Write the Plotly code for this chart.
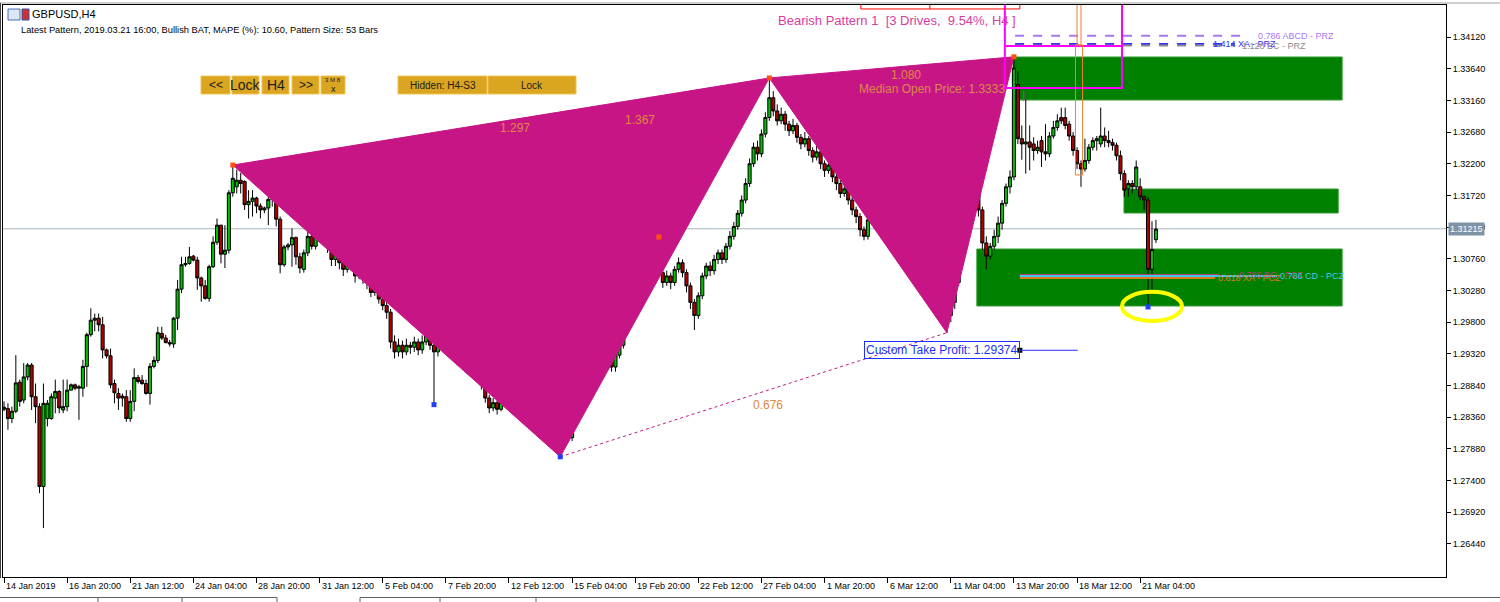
import plotly.graph_objects as go

# ---------------- data (prices in pips, i.e. price * 10000), one bar per H4 candle ----------------
opens = [12848,12849,12834,12845,12889,12862,12897,12915,12867,12852,12731,12834,12834,12865,12875,12847,12852,12877,12885,12880,
         12880,12913,12961,12983,12986,12976,12938,12929,12887,12872,12868,12867,12834,12860,12896,12892,12887,12872,12913,12922,
         12963,12956,12949,12947,12986,13030,13067,13069,13080,13074,13047,13035,13016,13064,13101,13127,13083,13089,13176,13185,
         13195,13193,13158,13163,13168,13156,13150,13153,13166,13190,13136,13067,13094,13097,13108,13079,
         13060,13085,13110,13095,13125,13135,13115,13095,13075,13085,
         13070,13060,13075,13065,13050,13060,13045,13040,13025,13035,
         13015,13005,12995,12950,12935,12945,12935,12945,12942,12950,
         12938,12950,12960,12945,12935,12950,12962,12955,12965,12950,
         12940,12952,12935,12925,12910,12895,12885,12865,12850,12858,
         12848,12862,12875,12888,12895,12885,12900,12910,12895,12875,
         12860,12870,12845,12830,12805,12790,12800,12815,12805,12825,
         12840,12870,12885,12910,12925,12915,12930,12938,12925,12912,
         12930,12945,12965,12990,13020,13045,13060,13050,13070,13060,
         13075,13055,13040,13050,13040,13060,13070,13055,13035,13010,
         12990,13020,13050,13065,13058,13075,13085,13075,13095,13110,
         13125,13145,13165,13190,13220,13245,13235,13265,13290,13320,
         13300,13285,13295,13280,13270,13278,13260,13250,13258,13240,
         13230,13238,13220,13210,13218,13200,13190,13175,13182,13165,
         13150,13140,13120,13110,13135,13150,13140,13155,13165,13155,
         13170,13178,13170,13150,13130,13140,13110,13090,13098,13075,
         13060,13030,13000,12985,12990,13010,13040,13090,13140,13175,
         13190,13180,13150,13100,13080,13095,13110,13130,13160,13185,
         13200,13340,13258,13250,13253,13250,13240,13255,13238,13235,
         13262,13275,13290,13290,13280,13262,13240,13220,13212,13225,
         13245,13255,13250,13262,13255,13252,13248,13232,13205,13182,
         13190,13185,13185,13170,13165,13060,13105]
highs = [12860,12857,12852,12930,12893,12918,12918,12918,12887,12857,12887,12862,12872,12893,12877,12893,12893,12887,12887,12885,
         12923,12964,13001,12993,12993,12988,12940,12940,12893,12880,12872,12877,12877,12910,12900,12900,12893,12918,12928,12973,
         12973,12961,12953,12988,13044,13079,13079,13094,13082,13079,13049,13044,13067,13110,13137,13127,13127,13180,13218,13211,
         13206,13195,13180,13180,13170,13160,13155,13170,13198,13201,13140,13097,13100,13122,13110,13085,
         13090,13120,13125,13135,13150,13140,13120,13100,13095,13090,
         13078,13085,13082,13070,13068,13065,13055,13048,13042,13040,
         13022,13012,13000,12960,12955,12952,12955,12950,12958,12955,
         12960,12968,12965,12950,12958,12970,12975,12978,12970,12955,
         12960,12958,12942,12930,12915,12900,12890,12870,12865,12862,
         12868,12880,12892,12905,12900,12908,12918,12915,12900,12880,
         12880,12875,12850,12835,12812,12808,12822,12820,12830,12848,
         12875,12892,12915,12935,12932,12940,12945,12942,12930,12935,
         12950,12970,12995,13025,13050,13068,13065,13078,13080,13075,
         13109,13060,13058,13055,13065,13078,13075,13060,13040,13015,
         13025,13055,13070,13072,13082,13090,13090,13100,13118,13132,
         13150,13172,13198,13228,13252,13255,13272,13298,13350,13330,
         13310,13305,13300,13285,13288,13282,13265,13268,13262,13245,
         13248,13242,13225,13228,13222,13205,13195,13190,13186,13170,
         13155,13145,13125,13140,13155,13158,13162,13170,13172,13178,
         13185,13185,13175,13155,13148,13145,13115,13105,13102,13080,
         13065,13035,13005,13000,13015,13045,13095,13145,13185,13200,
         13280,13190,13155,13110,13100,13120,13140,13165,13190,13210,
         13382,13360,13278,13317,13278,13260,13255,13262,13280,13268,
         13285,13295,13305,13305,13285,13268,13245,13225,13258,13250,
         13260,13262,13305,13275,13270,13258,13252,13240,13210,13195,
         13195,13225,13198,13172,13170,13133,13135]
lows = [12845,12817,12827,12842,12852,12857,12892,12847,12827,12721,12668,12822,12832,12842,12842,12842,12845,12877,12877,12832,
        12867,12882,12958,12966,12966,12925,12925,12880,12857,12847,12852,12829,12829,12845,12887,12885,12870,12855,12910,12918,
        12953,12948,12943,12941,12968,13024,13064,13067,13072,13029,13011,13014,13011,13062,13097,13069,13062,13084,13170,13175,
        13175,13150,13137,13140,13145,13137,13145,13127,13155,13125,13054,13064,13089,13064,13067,13054,
        13055,13080,13090,13090,13115,13105,13085,13065,13065,13060,
        13050,13055,13058,13040,13045,13038,13030,13018,13020,13008,
        12998,12985,12940,12925,12928,12925,12930,12932,12935,12930,
        12932,12945,12938,12855,12928,12945,12948,12950,12945,12932,
        12935,12928,12918,12902,12888,12878,12858,12842,12845,12840,
        12845,12858,12870,12882,12878,12880,12895,12888,12868,12852,
        12855,12838,12820,12795,12782,12776,12795,12798,12800,12820,
        12835,12865,12880,12905,12908,12910,12925,12918,12905,12905,
        12925,12940,12960,12985,13015,13038,13040,13045,13052,13055,
        13050,13032,13035,13030,13035,13055,13048,13025,13000,12968,
        12985,13015,13045,13050,13052,13068,13068,13070,13090,13105,
        13120,13140,13160,13185,13215,13225,13230,13260,13285,13292,
        13278,13280,13270,13262,13265,13252,13242,13245,13232,13222,
        13225,13212,13200,13205,13192,13180,13168,13170,13158,13142,
        13130,13110,13104,13105,13128,13132,13135,13150,13148,13150,
        13165,13160,13140,13120,13125,13100,13080,13085,13065,13050,
        13020,12990,12975,12964,12980,13000,13035,13085,13135,13170,
        13170,13140,13090,13060,13075,13090,13100,13120,13155,13175,
        13195,13250,13226,13205,13210,13225,13235,13215,13225,13230,
        13258,13270,13280,13272,13255,13232,13212,13185,13208,13220,
        13240,13240,13245,13245,13245,13240,13225,13195,13170,13170,
        13175,13180,13165,13150,13003,13025,13100]
closes = [12851,12834,12845,12888,12860,12897,12915,12867,12852,12731,12857,12857,12867,12875,12850,12852,12877,12885,12880,12882,
          12913,12961,12983,12986,12976,12938,12929,12885,12873,12865,12865,12834,12860,12896,12890,12887,12872,12913,12922,12964,
          12956,12949,12947,12986,13030,13067,13069,13079,13074,13047,13035,13016,13064,13101,13127,13083,13089,13176,13198,13195,
          13190,13158,13163,13168,13156,13150,13153,13166,13190,13136,13067,13094,13097,13108,13079,13062,
          13085,13110,13095,13125,13135,13115,13095,13075,13085,13070,
          13060,13075,13065,13050,13060,13045,13040,13025,13035,13015,
          13005,12995,12950,12935,12945,12935,12945,12942,12950,12938,
          12950,12960,12945,12935,12950,12962,12955,12965,12950,12940,
          12952,12935,12925,12910,12895,12885,12865,12850,12858,12848,
          12862,12875,12888,12895,12885,12900,12910,12895,12875,12860,
          12870,12845,12830,12805,12790,12800,12815,12805,12825,12840,
          12870,12885,12910,12925,12915,12930,12938,12925,12912,12930,
          12945,12965,12990,13020,13045,13060,13050,13070,13060,13075,
          13055,13040,13050,13040,13060,13070,13055,13035,13010,12990,
          13020,13050,13065,13058,13075,13085,13075,13095,13110,13125,
          13145,13165,13190,13220,13245,13235,13265,13290,13320,13300,
          13285,13295,13280,13270,13278,13260,13250,13258,13240,13230,
          13238,13220,13210,13218,13200,13190,13175,13182,13165,13150,
          13140,13120,13110,13135,13150,13140,13155,13165,13155,13170,
          13178,13170,13150,13130,13140,13110,13090,13098,13075,13060,
          13030,13000,12985,12990,13010,13040,13090,13140,13175,13190,
          13180,13150,13100,13080,13095,13110,13130,13160,13185,13200,
          13365,13258,13250,13253,13245,13240,13245,13238,13235,13262,
          13275,13285,13285,13278,13262,13240,13220,13212,13225,13245,
          13255,13258,13262,13255,13252,13248,13232,13205,13180,13190,
          13185,13215,13170,13165,13060,13090,13121]

tick_bars = [0, 16, 32, 48, 64, 80, 96, 112, 128, 144, 160, 176, 192, 208, 224, 240, 256, 272, 288]
tick_labels = ["14 Jan 2019", "16 Jan 20:00", "21 Jan 12:00", "24 Jan 04:00", "28 Jan 20:00", "31 Jan 12:00",
               "5 Feb 04:00", "7 Feb 20:00", "12 Feb 12:00", "15 Feb 04:00", "19 Feb 20:00", "22 Feb 12:00",
               "27 Feb 04:00", "1 Mar 20:00", "6 Mar 12:00", "11 Mar 04:00", "13 Mar 20:00", "18 Mar 12:00",
               "21 Mar 04:00"]
price_ticks = [1.26440, 1.26920, 1.27400, 1.27880, 1.28360, 1.28840, 1.29320, 1.29800, 1.30280,
               1.30760, 1.31240, 1.31720, 1.32200, 1.32680, 1.33160, 1.33640, 1.34120]
current_price = 1.31215

# harmonic pattern points: bar index and whether the point is a high or a low
pattern_bars = [58, 141, 194, 239, 256]
pattern_kind = ["H", "L", "H", "L", "H"]
extra_orange_bars = [166]
extra_blue_bars = [109, 290]

# zones (bar index range, price range)
zone_start = [255.8, 283.9, 246.6]
zone_end = [339.2, 338.2, 339.2]
zone_low = [1.33166, 1.31454, 1.30045]
zone_high = [1.33817, 1.31817, 1.30908]

prz_levels = [1.34140, 1.34014, 1.33991]
prz_labels = ["0.786 ABCD - PRZ", "1.414 XA - PRZ", "1.128 BC - PRZ"]
prz_colors = ["#A878F0", "#3030FF", "#8C8C8C"]
pcz_levels = [1.30514, 1.30499, 1.30469]
pcz_labels = ["0.786 BC - PCZ", "0.786 CD - PCZ", "0.618 XA - PCZ"]
pcz_colors = ["#B04070", "#40C8E8", "#E07820"]
take_profit = 1.29374

# ---------------- geometry helpers ----------------
W, H = 1500, 602
L, R, T, B = 3, 54, 5, 25
PW, PH = W - L - R, H - T - B
BAR_PX = 3.945
X0 = -1 / BAR_PX
X1 = X0 + PW / BAR_PX
Y0, Y1 = 1.25939, 1.34605


def px(x):
    return (x - L) / PW


def py(y):
    return (H - B - y) / PH


o = [v / 10000 for v in opens]
h = [v / 10000 for v in highs]
l = [v / 10000 for v in lows]
c = [v / 10000 for v in closes]
xs = list(range(len(o)))
pattern_prices = [h[b] if k == "H" else l[b] for b, k in zip(pattern_bars, pattern_kind)]

fig = go.Figure()
PINK = "#C71585"
FONT = "Liberation Sans"

# pattern triangles
for idx in [(0, 1, 2, 0), (2, 3, 4, 2)]:
    fig.add_trace(go.Scatter(x=[pattern_bars[i] for i in idx], y=[pattern_prices[i] for i in idx],
                             fill="toself", fillcolor=PINK, line=dict(color=PINK, width=1),
                             mode="lines", hoverinfo="skip", showlegend=False))
fig.add_trace(go.Scatter(x=[pattern_bars[1], pattern_bars[3]], y=[pattern_prices[1], pattern_prices[3]],
                         mode="lines", line=dict(color=PINK, width=1, dash="dot"),
                         hoverinfo="skip", showlegend=False))

fig.add_trace(go.Candlestick(x=xs, open=o, high=h, low=l, close=c,
                             increasing=dict(fillcolor="#00C000", line=dict(color="#000000", width=1)),
                             decreasing=dict(fillcolor="#B00000", line=dict(color="#000000", width=1)),
                             whiskerwidth=0, showlegend=False, hoverinfo="x+y"))

fig.add_trace(go.Scatter(x=[pattern_bars[0], pattern_bars[2], pattern_bars[4]] + extra_orange_bars,
                         y=[pattern_prices[0], pattern_prices[2], pattern_prices[4]] + [h[b] for b in extra_orange_bars],
                         mode="markers", marker=dict(symbol="square", size=5, color="#FF5010"),
                         hoverinfo="skip", showlegend=False))
fig.add_trace(go.Scatter(x=[pattern_bars[1]] + extra_blue_bars,
                         y=[pattern_prices[1]] + [l[b] for b in extra_blue_bars],
                         mode="markers", marker=dict(symbol="square", size=5, color="#2040FF"),
                         hoverinfo="skip", showlegend=False))

shapes = []
for s, e, lo, hi in zip(zone_start, zone_end, zone_low, zone_high):
    shapes.append(dict(type="rect", xref="x", yref="y", x0=s, x1=e, y0=lo, y1=hi,
                       fillcolor="#008000", line=dict(color="#2E9B2E", width=1), layer="below"))
shapes.append(dict(type="line", xref="paper", yref="y", x0=0, x1=1, y0=current_price, y1=current_price,
                   line=dict(color="#A8B4BE", width=1), layer="below"))
for lev, col, end in zip(prz_levels, prz_colors, [314.6, 312, 312]):
    shapes.append(dict(type="line", xref="x", yref="y", x0=256.3, x1=end, y0=lev, y1=lev,
                       line=dict(color=col, width=2, dash="dash")))
for lev, col, end in zip(pcz_levels, pcz_colors, [308, 322.7, 307]):
    shapes.append(dict(type="line", xref="x", yref="y", x0=257.5, x1=end, y0=lev, y1=lev,
                       line=dict(color=col, width=2)))
shapes.append(dict(type="rect", xref="x", yref="y", x0=253.7, x1=283.4, y0=1.33347, y1=1.3475,
                   line=dict(color="#FF00FF", width=2)))
shapes.append(dict(type="line", xref="x", yref="y", x0=253.7, x1=283.4, y0=1.33984, y1=1.33984,
                   line=dict(color="#FF00FF", width=2)))
shapes.append(dict(type="line", xref="x", yref="y", x0=258.5, x1=258.5, y0=1.33300, y1=1.33150,
                   line=dict(color="#FF00FF", width=1)))
shapes.append(dict(type="rect", xref="x", yref="y", x0=217.2, x1=257.5, y0=1.34545, y1=1.3475,
                   line=dict(color="#FF0000", width=1)))
shapes.append(dict(type="line", xref="x", yref="y", x0=234.7, x1=234.7, y0=1.34545, y1=1.3475,
                   line=dict(color="#FF0000", width=1)))
shapes.append(dict(type="rect", xref="x", yref="y", x0=271.6, x1=273.4, y0=1.3203, y1=1.3400,
                   line=dict(color="#F08030", width=1)))
shapes.append(dict(type="rect", xref="x", yref="y", x0=272.0, x1=273.0, y0=1.3400, y1=1.3475,
                   line=dict(color="#F08030", width=1)))
shapes.append(dict(type="line", xref="x", yref="y", x0=257.5, x1=272.2, y0=take_profit, y1=take_profit,
                   line=dict(color="#2030FF", width=1)))
shapes.append(dict(type="circle", xref="x", yref="y", x0=283.4, x1=298.6, y0=1.29818, y1=1.30259,
                   line=dict(color="#FFFF00", width=4)))

# buttons (pixel positions)
buttons = [(201, 230, "<<", 12), (232, 259, "Lock", 14), (262, 289, "H4", 14), (292, 319, ">>", 12),
           (321, 345, "", 9), (398, 487, "Hidden: H4-S3", 10), (488, 576, "Lock", 10)]
annotations = []
for x0, x1, txt, fs in buttons:
    shapes.append(dict(type="rect", xref="paper", yref="paper", x0=px(x0), x1=px(x1), y0=py(94), y1=py(76),
                       fillcolor="#DAA520", line=dict(color="#F2C450", width=1)))
    if txt:
        annotations.append(dict(x=px((x0 + x1) / 2), y=py(85), xref="paper", yref="paper", text=txt,
                                xanchor="center", yanchor="middle", showarrow=False,
                                font=dict(size=fs, color="#202020", family=FONT)))
annotations.append(dict(x=px(333), y=py(80), xref="paper", yref="paper", text="3 M 8", xanchor="center",
                        yanchor="middle", showarrow=False, font=dict(size=6, color="#202020", family=FONT)))
annotations.append(dict(x=px(333), y=py(89), xref="paper", yref="paper", text="x", xanchor="center",
                        yanchor="middle", showarrow=False, font=dict(size=9, color="#202020", family=FONT)))

# title icons
shapes.append(dict(type="rect", xref="paper", yref="paper", x0=px(8), x1=px(20), y0=py(20), y1=py(9),
                   fillcolor="#DCE6F5", line=dict(color="#4A6FB5", width=1)))
shapes.append(dict(type="rect", xref="paper", yref="paper", x0=px(22), x1=px(29), y0=py(20), y1=py(9),
                   fillcolor="#D03030", line=dict(color="#3050B0", width=1)))
# window borders and tab strip
shapes.append(dict(type="line", xref="paper", yref="paper", x0=px(0), x1=px(1500), y0=py(3), y1=py(3),
                   line=dict(color="#A0A0A0", width=1)))
shapes.append(dict(type="line", xref="paper", yref="paper", x0=px(0.5), x1=px(0.5), y0=py(3), y1=py(578),
                   line=dict(color="#404040", width=1)))
for a, b_ in [(0, 277), (360, 1500)]:
    shapes.append(dict(type="line", xref="paper", yref="paper", x0=px(a), x1=px(b_), y0=py(597.5), y1=py(597.5),
                       line=dict(color="#606060", width=1)))
for xv in [98, 182, 277, 360, 440, 536]:
    shapes.append(dict(type="line", xref="paper", yref="paper", x0=px(xv), x1=px(xv), y0=py(597.5), y1=py(602),
                       line=dict(color="#606060", width=1)))

annotations += [
    dict(x=px(30), y=py(14), xref="paper", yref="paper", xanchor="left", yanchor="middle",
         text="GBPUSD,H4", showarrow=False, font=dict(size=11, color="#000000", family=FONT)),
    dict(x=px(19), y=py(30), xref="paper", yref="paper", xanchor="left", yanchor="middle",
         text="Latest Pattern, 2019.03.21 16:00, Bullish BAT, MAPE (%): 10.60, Pattern Size: 53 Bars",
         showarrow=False, font=dict(size=9.3, color="#000000", family=FONT)),
    dict(x=px(776), y=py(20), xref="paper", yref="paper", xanchor="left", yanchor="middle",
         text="Bearish Pattern 1  [3 Drives,  9.54%, H4 ]", showarrow=False,
         font=dict(size=13, color="#D83CA0", family=FONT)),
]
for bx, pr, txt in [(129.5, 1.32741, "1.297"), (161.2, 1.32863, "1.367"), (228.6, 1.33544, "1.080"),
                    (193.7, 1.28545, "0.676")]:
    annotations.append(dict(x=bx, y=pr, xref="x", yref="y", text=txt, showarrow=False,
                            xanchor="center", yanchor="middle",
                            font=dict(size=12, color="#E08840", family=FONT)))
annotations.append(dict(x=px(857), y=py(89), xref="paper", yref="paper", xanchor="left", yanchor="middle",
                        text="Median Open Price: 1.3333", showarrow=False,
                        font=dict(size=12, color="#D88A48", family=FONT)))
for lev, lab, col, xx in zip(prz_levels, prz_labels, prz_colors, [1256, 1211, 1240]):
    annotations.append(dict(x=px(xx), y=lev, xref="paper", yref="y", xanchor="left", yanchor="middle",
                            text=lab, showarrow=False, font=dict(size=9, color=col, family=FONT)))
for lev, lab, col, xx in zip(pcz_levels, pcz_labels, pcz_colors, [1237, 1278, 1216]):
    annotations.append(dict(x=px(xx), y=lev, xref="paper", yref="y", xanchor="left", yanchor="middle",
                            text=lab, showarrow=False, font=dict(size=9, color=col, family=FONT)))
annotations.append(dict(x=257.5, y=take_profit, xref="x", yref="y", xanchor="right", yanchor="middle",
                        text="Custom Take Profit: %.5f" % take_profit, showarrow=False,
                        bordercolor="#2030FF", borderwidth=1, borderpad=1,
                        font=dict(size=12, color="#2030FF", family=FONT)))
fig.add_trace(go.Scatter(x=[257.5], y=[take_profit], mode="markers",
                         marker=dict(symbol="square", size=5, color="#000000"),
                         hoverinfo="skip", showlegend=False))
annotations.append(dict(x=1.0, y=current_price, xref="paper", yref="y", xanchor="left", yanchor="middle",
                        xshift=2, text="%.5f" % current_price, showarrow=False, bgcolor="#7F93A6",
                        font=dict(size=9, color="#FFFFFF", family=FONT)))
for b, t in zip(tick_bars, tick_labels):
    annotations.append(dict(x=b, y=0, xref="x", yref="paper", xanchor="left", yanchor="top",
                            yshift=-2, text=t, showarrow=False,
                            font=dict(size=9, color="#000000", family=FONT)))

fig.update_layout(
    width=W, height=H, margin=dict(l=L, r=R, t=T, b=B),
    paper_bgcolor="#FFFFFF", plot_bgcolor="#FFFFFF",
    shapes=shapes, annotations=annotations, showlegend=False,
    boxgap=0.22, boxgroupgap=0,
    xaxis=dict(range=[X0, X1], showgrid=False, zeroline=False, rangeslider=dict(visible=False),
               tickvals=tick_bars, ticktext=[""] * len(tick_bars), ticks="outside", ticklen=5,
               tickcolor="#000000", showline=True, linecolor="#000000", mirror=True),
    yaxis=dict(range=[Y0, Y1], side="right", showgrid=False, zeroline=False,
               tickvals=price_ticks, ticktext=["%.5f" % v for v in price_ticks],
               ticks="outside", ticklen=4, tickcolor="#000000", showline=True, linecolor="#000000",
               mirror=True, tickfont=dict(size=9, color="#000000", family=FONT)),
)

fig.write_html("out.html", config={"displayModeBar": False},
               post_script="document.body.style.margin='0';document.body.style.padding='0';")
